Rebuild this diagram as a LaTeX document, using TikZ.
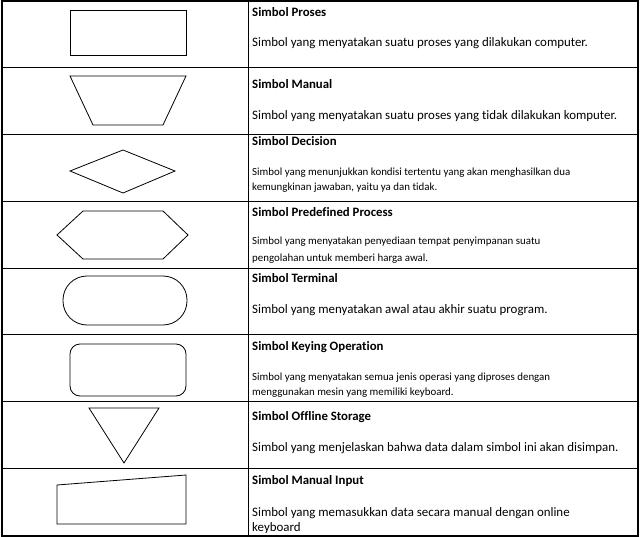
\documentclass[tikz,border=0pt]{standalone}
\usepackage{fontspec}
\setmainfont{Carlito}[Ligatures={NoCommon}]
\begin{document}
\begin{tikzpicture}[x=1pt, y=-1pt,
    symbol/.style = {draw, line width=0.8pt},
    title/.style = {anchor=base west, inner sep=0pt, font=\fontsize{12.8}{14}\selectfont\bfseries},
    desc/.style = {anchor=base west, inner sep=0pt, font=\fontsize{12.9}{14}\selectfont},
    small/.style = {anchor=base west, inner sep=0pt, font=\fontsize{10.9}{12}\selectfont}]
  \useasboundingbox (0,0) rectangle (640,537);

  % table grid
  \draw [line width=1.5pt] (2,1) rectangle (638,536);
  \draw [line width=0.8pt] (248,1) -- (248,536);
  \foreach \y in {67,134,201,268,334,401,468}{
      \draw [line width=0.8pt] (2,\y) -- (638,\y);
    }

  % symbols
  \draw [symbol] (70,10) rectangle (186,55);
  \draw [symbol] (70,76) -- (186,76) -- (163,125) -- (93,125) -- cycle;
  \draw [symbol] (70,171) -- (123,150) -- (175,171) -- (123,193) -- cycle;
  \draw [symbol] (57,235) -- (83,211) -- (163,211) -- (188,235) -- (163,259) -- (83,259) -- cycle;
  \draw [symbol, rounded corners=24pt] (63,276) rectangle (187,325);
  \draw [symbol, rounded corners=10pt] (70,344) rectangle (186,396);
  \draw [symbol] (89,408) -- (159,408) -- (124,463) -- cycle;
  \draw [symbol] (57,485) -- (186,475) -- (186,524) -- (57,524) -- cycle;

  % texts
  \node [title] (t1) at (252,17) {Simbol Proses};
  \node [desc]  (d1) at (252,47) {Simbol yang menyatakan suatu proses yang dilakukan computer.};
  \node [title] (t2) at (252,89) {Simbol Manual};
  \node [desc]  (d2) at (252,120) {Simbol yang menyatakan suatu proses yang tidak dilakukan komputer.};
  \node [title] (t3) at (252,146) {Simbol Decision};
  \node [small] (d3a) at (252,176) {Simbol yang menunjukkan kondisi tertentu yang akan menghasilkan dua};
  \node [small] (d3b) at (252,191) {kemungkinan jawaban, yaitu ya dan tidak.};
  \node [title] (t4) at (252,217) {Simbol Predefined Process};
  \node [small] (d4a) at (252,245) {Simbol yang menyatakan penyediaan tempat penyimpanan suatu};
  \node [small] (d4b) at (252,262) {pengolahan untuk memberi harga awal.};
  \node [title] (t5) at (252,283) {Simbol Terminal};
  \node [desc]  (d5) at (252,314) {Simbol yang menyatakan awal atau akhir suatu program.};
  \node [title] (t6) at (252,351) {Simbol Keying Operation};
  \node [small] (d6a) at (252,381) {Simbol yang menyatakan semua jenis operasi yang diproses dengan};
  \node [small] (d6b) at (252,395) {menggunakan mesin yang memiliki keyboard.};
  \node [title] (t7) at (252,420) {Simbol Offline Storage};
  \node [desc]  (d7) at (252,451) {Simbol yang menjelaskan bahwa data dalam simbol ini akan disimpan.};
  \node [title] (t8) at (252,484) {Simbol Manual Input};
  \node [desc]  (d8a) at (252,516) {Simbol yang memasukkan data secara manual dengan online};
  \node [desc]  (d8b) at (252,531) {keyboard};
\end{tikzpicture}
\end{document}
